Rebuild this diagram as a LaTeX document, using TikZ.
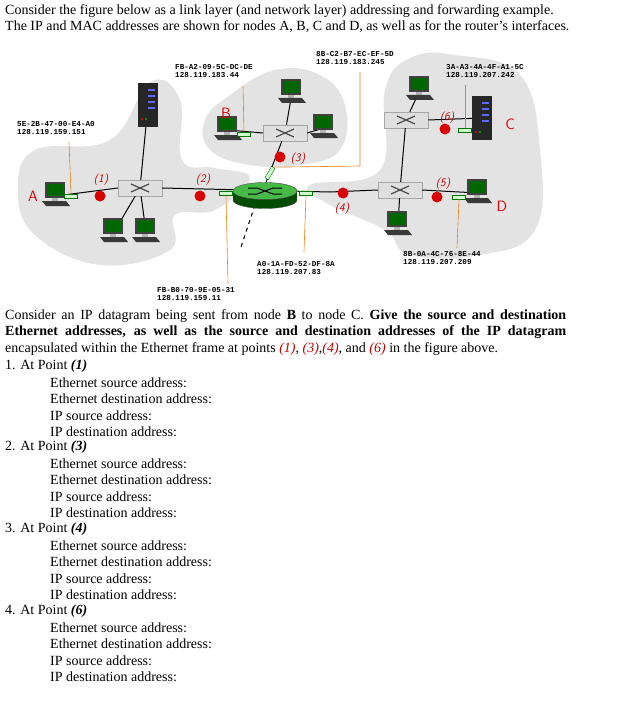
\documentclass[tikz,border=0pt]{standalone}
\usepackage{fontspec}
\usetikzlibrary{shapes.geometric}
\setmainfont{Liberation Serif}
\newfontfamily\monof{Liberation Mono}
\begin{document}
\begin{tikzpicture}[x=1pt,y=-1pt,
  addr/.style={font=\monof\bfseries\fontsize{7.6}{8.2}\selectfont,align=left,anchor=north west,inner sep=0pt},
  lead/.style={draw=orange!70!brown,line width=0.6pt},
  link/.style={line width=1pt},
  dot/.style={circle,fill=red!85!black,inner sep=0pt,minimum size=11pt},
  ptlab/.style={text=red!75!black,font=\sffamily\itshape\fontsize{11.5}{12}\selectfont},
  nodelab/.style={text=red!85!black,font=\sffamily\fontsize{15}{16}\selectfont},
  iface/.style={draw=green!45!black,fill=green!20,minimum width=13pt,minimum height=4pt,inner sep=0pt},
  switch/.style={draw=gray!70,fill=gray!25,minimum width=44pt,minimum height=16pt,inner sep=0pt,
     path picture={\draw[gray!60!black,line width=1.2pt] ([xshift=13pt,yshift=-4pt]path picture bounding box.north west) -- ([xshift=-13pt,yshift=4pt]path picture bounding box.south east);
                   \draw[gray!60!black,line width=1.2pt] ([xshift=-13pt,yshift=-4pt]path picture bounding box.north east) -- ([xshift=13pt,yshift=4pt]path picture bounding box.south west);}},
  body/.style={font=\fontsize{14}{16.5}\selectfont,anchor=west,inner sep=0pt},
  computer/.pic={\fill[gray!50!black] (-11,-14) -- (9,-14) -- (9,2) -- (-11,2) -- cycle;
     \fill[green!40!black] (-9,-12) -- (7,-12) -- (7,0) -- (-9,0) -- cycle;
     \fill[gray!60] (-4,2) rectangle (2,5);
     \fill[gray!45!black] (-14,5) -- (10,5) -- (14,10) -- (-10,10) -- cycle;},
  server/.pic={\fill[black!85] (-10,-22) rectangle (10,22);
     \foreach \yy in {-16,-10,-4,2} \fill[blue!60!white] (0,\yy) rectangle (7,\yy+2);
     \fill[red] (-6,14) circle (1.2); \fill[green!70!black] (-2,14) circle (1.2);}
]
\useasboundingbox (0,0) rectangle (621,706);
% blobs
\fill[gray!22] plot[smooth cycle,tension=0.7] coordinates {(18,190) (35,150) (110,140) (150,82) (180,100) (182,160) (215,168) (250,178) (215,210) (175,215) (170,250) (100,265) (35,235)};
\fill[gray!22] plot[smooth cycle,tension=0.7] coordinates {(205,120) (230,95) (275,70) (320,75) (345,105) (340,150) (300,165) (250,165) (210,150)};
\fill[gray!22] plot[smooth cycle,tension=0.7] coordinates {(310,185) (380,170) (385,90) (410,58) (455,55) (520,75) (540,150) (535,230) (480,255) (410,255) (385,230) (330,205)};
% intro text
\node[body] (t1) at (5,11) {Consider the figure below as a link layer (and network layer) addressing and forwarding example.};
\node[body] (t2) at (5,27) {The IP and MAC addresses are shown for nodes A, B, C and D, as well as for the router's interfaces.};
% equipment
\node[switch] (s1) at (140,188) {};
\node[switch] (sB) at (285,133) {};
\node[switch] (sU) at (406,120) {};
\node[switch] (sL) at (400,190) {};
\coordinate (srvL) at (148,105);
\coordinate (srvC) at (482,118);
\coordinate (pcA) at (56,196);
\coordinate (pcB) at (228,130);
\coordinate (pcB2) at (292,93);
\coordinate (pcB3) at (324,128);
\coordinate (pc1) at (114,232);
\coordinate (pc2) at (146,232);
\coordinate (pcU) at (420,90);
\coordinate (pcD) at (478,193);
\coordinate (pcL) at (398,225);
\coordinate (dashend) at (240,250);
% links
\draw[link] (pcA) -- (s1.west);
\draw[link] (srvL) -- (s1);
\draw[link] (s1) -- (pc1); \draw[link] (s1) -- (pc2);
\draw[link] (s1.east) -- (330,192);
\draw[link] (pcB) -- (sB.west); \draw[link] (sB) -- (pcB2); \draw[link] (sB.east) -- (pcB3);
\draw[link] (sB) -- (265,185);
\draw[link] (330,192) -- (sL.west);
\draw[link] (sL) -- (sU); \draw[link] (sU) -- (pcU); \draw[link] (sU.east) -- (srvC);
\draw[link] (sL.east) -- (pcD); \draw[link] (sL) -- (pcL);
\draw[link,dash pattern=on 4pt off 4pt] (255,205) -- (dashend);
% router
\node[ellipse,draw=black!70,fill=green!30!black,minimum width=64pt,minimum height=17pt,inner sep=0pt] (rb) at (265,200) {};
\fill[green!30!black] (233,191) rectangle (297,200);
\node[ellipse,draw=black!70,fill=green!45!gray,minimum width=64pt,minimum height=17pt,inner sep=0pt] (rt) at (265,191) {};
\draw[line width=1pt] (248,188) -- (257,188) -- (273,194) -- (282,194) (248,194) -- (257,194) -- (273,188) -- (282,188);
% pics
\pic at (pcA) {computer}; \pic at (pcB) {computer}; \pic at (pcB2) {computer}; \pic at (pcB3) {computer};
\pic at (pc1) {computer}; \pic at (pc2) {computer}; \pic at (pcU) {computer}; \pic at (pcD) {computer};
\pic at (pcL) {computer};
\pic at (srvL) {server}; \pic at (srvC) {server};
% interfaces
\node[iface] (iA) at (71,196) {};
\node[iface] (iB) at (244,134) {};
\node[iface] (iC) at (465,130) {};
\node[iface] (iD) at (459,197) {};
\node[iface] (iR1) at (226,193) {};
\node[iface] (iR2) at (306,193) {};
\node[iface,rotate=60] (iR3) at (270,173) {};
% dots
\node[dot] (d1) at (100,196) {}; \node[ptlab] at (101,180) {(1)};
\node[dot] (d2) at (200,196) {}; \node[ptlab] at (203,180) {(2)};
\node[dot] (d3) at (280,157) {}; \node[ptlab] at (298,159) {(3)};
\node[dot] (d4) at (343,193) {}; \node[ptlab] at (342,209) {(4)};
\node[dot] (d5) at (437,197) {}; \node[ptlab] at (443,184) {(5)};
\node[dot] (d6) at (445,129) {}; \node[ptlab] at (447,118) {(6)};
\node[nodelab] at (33,196) {A};
\node[nodelab] at (226,113) {B};
\node[nodelab] at (510,124) {C};
\node[nodelab] at (502,206) {D};
% address labels and leaders
\node[addr] (aA) at (17,121) {5E-2B-47-00-E4-A0\\128.119.159.151};
\draw[lead] (69,142) -- (iA.north);
\node[addr] (aB) at (175,64) {FB-A2-09-5C-DC-DE\\128.119.183.44};
\draw[lead] (243,86) -- (iB.north);
\node[addr] (aR3) at (316,51) {8B-C2-B7-EC-EF-5D\\128.119.183.245};
\draw[lead] (360,72) -- (360,166) -- (iR3.east);
\node[addr] (aC) at (446,64) {3A-A3-4A-4F-A1-5C\\128.119.207.242};
\draw[lead] (465,85) -- (iC.north);
\node[addr] (aR2) at (257,261) {A0-1A-FD-52-DF-8A\\128.119.207.83};
\draw[lead] (iR2.south) -- (304,252);
\node[addr] (aR1) at (157,287) {FB-B0-70-9E-05-31\\128.119.159.11};
\draw[lead] (iR1.south) -- (228,284);
\node[addr] (aD) at (403,251) {8B-0A-4C-76-8E-44\\128.119.207.209};
\draw[lead] (iD.south) -- (457,248);
% question text
\node[font=\fontsize{14}{16.5}\selectfont,anchor=north west,inner sep=0pt,text width=561pt,align=justify] (q) at (5,309)
 {Consider an IP datagram being sent from node \textbf{B} to node C. \textbf{Give the source and destination}\linebreak \textbf{Ethernet addresses, as well as the source and destination addresses of the IP datagram}\linebreak encapsulated within the Ethernet frame at points \textcolor{red!75!black}{\textit{(1)}}, \textcolor{red!75!black}{\textit{(3)}},\textcolor{red!75!black}{\textit{(4)}}, and \textcolor{red!75!black}{\textit{(6)}} in the figure above.};
\foreach \n/\p/\y in {1/1/366,2/3/447,3/4/529,4/6/611}{
  \node[body] at (5,\y) {\n. At Point \textbf{\textit{(\p)}}};
  \node[body] at (50,\y+16.5) {Ethernet source address:};
  \node[body] at (50,\y+33) {Ethernet destination address:};
  \node[body] at (50,\y+49.5) {IP source address:};
  \node[body] at (50,\y+66) {IP destination address:};
}
\end{tikzpicture}
\end{document}
